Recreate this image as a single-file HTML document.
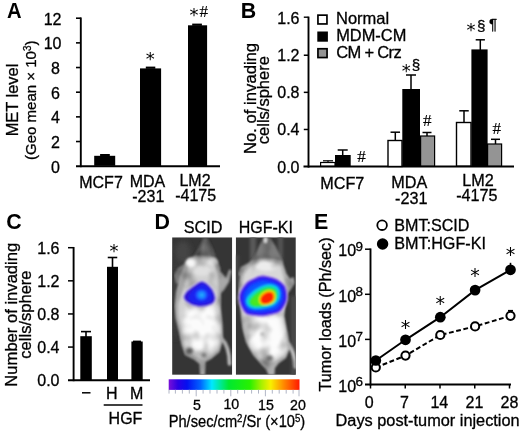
<!DOCTYPE html>
<html><head><meta charset="utf-8"><title>Figure</title>
<style>
html,body{margin:0;padding:0;background:#fff;}
svg{display:block;font-family:"Liberation Sans", Arial, Helvetica, sans-serif;fill:#000;}
#all{filter:blur(0.35px);}
text{stroke:#000;stroke-width:0.3px;}
</style></head>
<body>
<svg width="520" height="431" viewBox="0 0 520 431">
<rect x="0" y="0" width="520" height="431" fill="#fff"/>
<g id="all">
<g id="panelA">
<text x="6.9" y="18.4" font-size="21.4" text-anchor="start" font-weight="bold" style="stroke:none" textLength="14.6" lengthAdjust="spacingAndGlyphs">A</text>
<line x1="80.8" y1="17.45" x2="80.8" y2="167.2" stroke="#000" stroke-width="1.9" />
<line x1="76" y1="166.2" x2="220" y2="166.2" stroke="#000" stroke-width="2" />
<text x="59.9" y="172.5" font-size="16" text-anchor="end" font-weight="normal" >0</text>
<line x1="76" y1="141.53333333333333" x2="80.8" y2="141.53333333333333" stroke="#000" stroke-width="1.6" />
<text x="59.9" y="147.83333333333334" font-size="16" text-anchor="end" font-weight="normal" >2</text>
<line x1="76" y1="116.86666666666665" x2="80.8" y2="116.86666666666665" stroke="#000" stroke-width="1.6" />
<text x="59.9" y="123.16666666666664" font-size="16" text-anchor="end" font-weight="normal" >4</text>
<line x1="76" y1="92.19999999999999" x2="80.8" y2="92.19999999999999" stroke="#000" stroke-width="1.6" />
<text x="59.9" y="98.49999999999999" font-size="16" text-anchor="end" font-weight="normal" >6</text>
<line x1="76" y1="67.53333333333332" x2="80.8" y2="67.53333333333332" stroke="#000" stroke-width="1.6" />
<text x="59.9" y="73.83333333333331" font-size="16" text-anchor="end" font-weight="normal" >8</text>
<line x1="76" y1="42.866666666666646" x2="80.8" y2="42.866666666666646" stroke="#000" stroke-width="1.6" />
<text x="61.5" y="49.16666666666664" font-size="16" text-anchor="end" font-weight="normal" >10</text>
<line x1="76" y1="18.19999999999999" x2="80.8" y2="18.19999999999999" stroke="#000" stroke-width="1.6" />
<text x="61.5" y="24.49999999999999" font-size="16" text-anchor="end" font-weight="normal" >12</text>
<rect x="94.2" y="155.8" width="21" height="10" fill="#000"/>
<rect x="100.1" y="154" width="9.7" height="2.2" fill="#000"/>
<rect x="140" y="68.4" width="21.1" height="98" fill="#000"/>
<rect x="145.8" y="66.6" width="9.5" height="2.2" fill="#000"/>
<rect x="188" y="25.3" width="19.1" height="141" fill="#000"/>
<rect x="192.2" y="23.6" width="9.7" height="2.2" fill="#000"/>
<text x="150.2" y="65.25" font-size="18" text-anchor="middle" font-family="DejaVu Sans, sans-serif" style="stroke:none">*</text>
<text x="193.9" y="21.45" font-size="18" text-anchor="middle" font-family="DejaVu Sans, sans-serif" style="stroke:none">*</text>
<text x="199.4" y="17" font-size="17" font-family="Liberation Serif, serif" style="stroke-width:0.15px">#</text>
<text x="101" y="187.6" font-size="16" text-anchor="middle" font-weight="normal" >MCF7</text>
<text x="147.5" y="186.6" font-size="16" text-anchor="middle" font-weight="normal" >MDA</text>
<text x="148.3" y="202" font-size="16" text-anchor="middle" font-weight="normal" >-231</text>
<text x="195" y="185.6" font-size="16" text-anchor="middle" font-weight="normal" >LM2</text>
<text x="195.7" y="201.2" font-size="16" text-anchor="middle" font-weight="normal" textLength="41" lengthAdjust="spacingAndGlyphs">-4175</text>
<text transform="translate(18.2 100) rotate(-90)" font-size="16.4" text-anchor="middle" >MET level</text>
<text transform="translate(36 100.3) rotate(-90)" font-size="15.3" text-anchor="middle" textLength="119.5" lengthAdjust="spacingAndGlyphs">(Geo mean × 10<tspan font-size="10" dy="-5.5">3</tspan><tspan dy="5.5">)</tspan></text>
</g>
<g id="panelB">
<text x="240.8" y="18.4" font-size="21.4" text-anchor="start" font-weight="bold" style="stroke:none">B</text>
<line x1="308.5" y1="16.6" x2="308.5" y2="167.6" stroke="#000" stroke-width="1.9" />
<line x1="303.8" y1="17.200000000000003" x2="308.5" y2="17.200000000000003" stroke="#000" stroke-width="1.4" />
<line x1="303.5" y1="166.6" x2="514" y2="166.6" stroke="#000" stroke-width="2" />
<text x="299.5" y="172.5" font-size="16" text-anchor="end" font-weight="normal" >0.0</text>
<line x1="303.8" y1="129.475" x2="308.5" y2="129.475" stroke="#000" stroke-width="1.5" />
<text x="299.5" y="135.375" font-size="16" text-anchor="end" font-weight="normal" >0.4</text>
<line x1="303.8" y1="92.35" x2="308.5" y2="92.35" stroke="#000" stroke-width="1.5" />
<text x="299.5" y="98.25" font-size="16" text-anchor="end" font-weight="normal" >0.8</text>
<line x1="303.8" y1="55.224999999999994" x2="308.5" y2="55.224999999999994" stroke="#000" stroke-width="1.5" />
<text x="299.5" y="61.12499999999999" font-size="16" text-anchor="end" font-weight="normal" >1.2</text>
<text x="299.5" y="23.999999999999993" font-size="16" text-anchor="end" font-weight="normal" >1.6</text>
<rect x="317.95" y="15.15" width="9.0" height="8.8" fill="#fff" stroke="#000" stroke-width="1.7"/>
<rect x="317.3" y="31.5" width="10.6" height="10.2" fill="#000"/>
<rect x="317.95" y="48.75" width="9.1" height="8.8" fill="#949494" stroke="#000" stroke-width="1.7"/>
<text x="336" y="24.4" font-size="16.5" text-anchor="start" font-weight="normal" >Normal</text>
<text x="336.2" y="41.1" font-size="16.4" text-anchor="start" font-weight="normal" >MDM-CM</text>
<text x="336.2" y="58.1" font-size="16.5" text-anchor="start" font-weight="normal" textLength="65.5" lengthAdjust="spacing">CM + Crz</text>
<rect x="320.6" y="162.5" width="14.4" height="3.5" fill="#fff" stroke="#000" stroke-width="1.2"/>
<line x1="328" y1="160.8" x2="328" y2="162" stroke="#000" stroke-width="1.2" />
<line x1="323.0" y1="160.8" x2="333.0" y2="160.8" stroke="#000" stroke-width="1.2" />
<rect x="335" y="155" width="15.7" height="11" fill="#000"/>
<line x1="342.7" y1="150" x2="342.7" y2="156" stroke="#000" stroke-width="1.5" />
<line x1="337.7" y1="150" x2="347.7" y2="150" stroke="#000" stroke-width="1.5" />
<text x="357.2" y="162" font-size="17" font-family="Liberation Serif, serif" style="stroke-width:0.15px">#</text>
<rect x="388" y="140.5" width="14" height="26" fill="#fff" stroke="#000" stroke-width="1.4"/>
<line x1="395.3" y1="132.2" x2="395.3" y2="140" stroke="#000" stroke-width="1.5" />
<line x1="390.55" y1="132.2" x2="400.05" y2="132.2" stroke="#000" stroke-width="1.5" />
<rect x="402.3" y="89" width="17.7" height="78" fill="#000"/>
<line x1="411" y1="75" x2="411" y2="90" stroke="#000" stroke-width="1.5" />
<line x1="406.0" y1="75" x2="416.0" y2="75" stroke="#000" stroke-width="1.5" />
<rect x="420.6" y="136" width="14" height="30" fill="#949494" stroke="#000" stroke-width="1.2"/>
<line x1="427" y1="132.5" x2="427" y2="136" stroke="#000" stroke-width="1.5" />
<line x1="422.5" y1="132.5" x2="431.5" y2="132.5" stroke="#000" stroke-width="1.5" />
<text x="423" y="126" font-size="17" font-family="Liberation Serif, serif" style="stroke-width:0.15px">#</text>
<text x="406.3" y="76.65" font-size="18" text-anchor="middle" font-family="DejaVu Sans, sans-serif" style="stroke:none">*</text>
<text x="411.8" y="70.4" font-size="15.2" text-anchor="start" font-weight="normal" >§</text>
<rect x="456.5" y="122.5" width="14.5" height="43.5" fill="#fff" stroke="#000" stroke-width="1.4"/>
<line x1="464" y1="110.8" x2="464" y2="122" stroke="#000" stroke-width="1.5" />
<line x1="459.25" y1="110.8" x2="468.75" y2="110.8" stroke="#000" stroke-width="1.5" />
<rect x="471.4" y="49.4" width="16.2" height="117" fill="#000"/>
<line x1="480.3" y1="39.8" x2="480.3" y2="51" stroke="#000" stroke-width="1.5" />
<line x1="475.7" y1="39.8" x2="484.90000000000003" y2="39.8" stroke="#000" stroke-width="1.5" />
<rect x="487.6" y="144" width="14" height="22" fill="#949494" stroke="#000" stroke-width="1.2"/>
<line x1="495.5" y1="139.3" x2="495.5" y2="144" stroke="#000" stroke-width="1.5" />
<line x1="491.0" y1="139.3" x2="500.0" y2="139.3" stroke="#000" stroke-width="1.5" />
<text x="492.5" y="134" font-size="17" font-family="Liberation Serif, serif" style="stroke-width:0.15px">#</text>
<text x="470.9" y="35.75" font-size="18" text-anchor="middle" font-family="DejaVu Sans, sans-serif" style="stroke:none">*</text>
<text x="476.9" y="30.6" font-size="15.2" text-anchor="start" font-weight="normal" >§</text>
<text x="489" y="29.4" font-size="15" text-anchor="start" font-weight="normal" >¶</text>
<text x="342.3" y="189.2" font-size="16.2" text-anchor="middle" font-weight="normal" >MCF7</text>
<text x="409.3" y="188" font-size="16.2" text-anchor="middle" font-weight="normal" >MDA</text>
<text x="411.3" y="203.5" font-size="16.2" text-anchor="middle" font-weight="normal" >-231</text>
<text x="478" y="186.2" font-size="16.2" text-anchor="middle" font-weight="normal" >LM2</text>
<text x="476.8" y="200.6" font-size="16.2" text-anchor="middle" font-weight="normal" textLength="41.3" lengthAdjust="spacingAndGlyphs">-4175</text>
<text transform="translate(256.3 98.4) rotate(-90)" font-size="16.65" text-anchor="middle" >No. of invading</text>
<text transform="translate(268.9 100.15) rotate(-90)" font-size="16.5" text-anchor="middle" >cells/sphere</text>
</g>
<g id="panelC">
<text x="6.3" y="228.9" font-size="21.4" text-anchor="start" font-weight="bold" style="stroke:none">C</text>
<line x1="73.6" y1="246.95" x2="73.6" y2="381.2" stroke="#000" stroke-width="1.9" />
<line x1="68" y1="380.2" x2="150" y2="380.2" stroke="#000" stroke-width="2" />
<text x="59.5" y="386.0" font-size="16" text-anchor="end" font-weight="normal" >0.0</text>
<line x1="68" y1="347.075" x2="73.6" y2="347.075" stroke="#000" stroke-width="1.5" />
<text x="59.5" y="352.875" font-size="16" text-anchor="end" font-weight="normal" >0.4</text>
<line x1="68" y1="313.95" x2="73.6" y2="313.95" stroke="#000" stroke-width="1.5" />
<text x="59.5" y="319.75" font-size="16" text-anchor="end" font-weight="normal" >0.8</text>
<line x1="68" y1="280.825" x2="73.6" y2="280.825" stroke="#000" stroke-width="1.5" />
<text x="59.5" y="286.625" font-size="16" text-anchor="end" font-weight="normal" >1.2</text>
<line x1="68" y1="247.7" x2="73.6" y2="247.7" stroke="#000" stroke-width="1.5" />
<text x="59.5" y="253.5" font-size="16" text-anchor="end" font-weight="normal" >1.6</text>
<rect x="80.3" y="336.2" width="11.5" height="44" fill="#000"/>
<line x1="86" y1="331.6" x2="86" y2="337" stroke="#000" stroke-width="1.6" />
<line x1="81.0" y1="331.6" x2="91.0" y2="331.6" stroke="#000" stroke-width="1.6" />
<rect x="107" y="266.8" width="11" height="113.5" fill="#000"/>
<line x1="112.5" y1="257.5" x2="112.5" y2="268" stroke="#000" stroke-width="1.6" />
<line x1="107.75" y1="257.5" x2="117.25" y2="257.5" stroke="#000" stroke-width="1.6" />
<rect x="131.4" y="341.5" width="11.3" height="39" fill="#000"/>
<rect x="133" y="340.6" width="8" height="1.5" fill="#000"/>
<text x="114.1" y="256.65" font-size="18" text-anchor="middle" font-family="DejaVu Sans, sans-serif" style="stroke:none">*</text>
<line x1="82" y1="392.8" x2="90.5" y2="392.8" stroke="#000" stroke-width="1.5" />
<text x="111.8" y="398.5" font-size="16" text-anchor="middle" font-weight="normal" >H</text>
<text x="136.6" y="398.5" font-size="16" text-anchor="middle" font-weight="normal" >M</text>
<line x1="103.7" y1="405" x2="142.5" y2="405" stroke="#000" stroke-width="1.6" />
<text x="125.5" y="423.9" font-size="16" text-anchor="middle" font-weight="normal" >HGF</text>
<text transform="translate(16.8 314.7) rotate(-90)" font-size="16.6" text-anchor="middle" >Number of invading</text>
<text transform="translate(30.8 314.55) rotate(-90)" font-size="16.55" text-anchor="middle" >cells/sphere</text>
</g>
<g id="panelD">
<text x="154.5" y="228.9" font-size="21.4" text-anchor="start" font-weight="bold" style="stroke:none">D</text>
<text x="203" y="233.4" font-size="16.2" text-anchor="middle" font-weight="normal" >SCID</text>
<text x="265.8" y="233.4" font-size="16" text-anchor="middle" font-weight="normal" >HGF-KI</text>
<defs>
<filter id="bl3" x="-30%" y="-30%" width="160%" height="160%"><feGaussianBlur stdDeviation="2.5"/></filter>
<filter id="bl2" x="-30%" y="-30%" width="160%" height="160%"><feGaussianBlur stdDeviation="1.8"/></filter>
<filter id="mott" x="0" y="0" width="100%" height="100%">
<feTurbulence type="fractalNoise" baseFrequency="0.07 0.06" numOctaves="2" seed="11" result="n"/>
<feColorMatrix in="n" type="matrix" values="0 0 0 0 0  0 0 0 0 0  0 0 0 0 0  1.5 0 0 0 -0.66" result="al"/>
<feComposite in="al" in2="SourceGraphic" operator="in" result="m"/>
<feGaussianBlur in="m" stdDeviation="1.2" result="mb"/>
<feMerge><feMergeNode in="SourceGraphic"/><feMergeNode in="mb"/></feMerge>
</filter>
<filter id="bl1" x="-30%" y="-30%" width="160%" height="160%"><feGaussianBlur stdDeviation="0.9"/></filter>
<clipPath id="cl1"><rect x="172.2" y="237.3" width="60" height="137.5"/></clipPath>
<clipPath id="cl2"><rect x="235.8" y="237.3" width="60" height="137.5"/></clipPath>
<linearGradient id="cbar" x1="0" x2="1" y1="0" y2="0">
<stop offset="0" stop-color="#7a10d8"/>
<stop offset="0.07" stop-color="#2c00e4"/>
<stop offset="0.14" stop-color="#0410f0"/>
<stop offset="0.24" stop-color="#0060ff"/>
<stop offset="0.33" stop-color="#00e8ff"/>
<stop offset="0.46" stop-color="#00e830"/>
<stop offset="0.62" stop-color="#28f000"/>
<stop offset="0.71" stop-color="#a8f000"/>
<stop offset="0.78" stop-color="#f8f000"/>
<stop offset="0.88" stop-color="#ff8800"/>
<stop offset="1" stop-color="#ff1800"/>
</linearGradient>
</defs>
<g clip-path="url(#cl1)">
<rect x="172" y="237.3" width="60.3" height="137.6" fill="#353535"/>
<g filter="url(#bl3)"><ellipse cx="183" cy="252" rx="8" ry="11" fill="#444"/><ellipse cx="176" cy="300" rx="4" ry="40" fill="#3e3e3e"/></g>
<g filter="url(#mott)">
<g filter="url(#bl1)">
<path d="M203 238 L199.500 246 L196 252 L193 257.500 L216 257.500 L213.500 250 L210 243 L207.500 238 Z" fill="#5c5c5c"/>
<path d="M204 239 L202 247 L200 257 L211 257 L209 247 L206.500 239 Z" fill="#7c7c7c"/>
<path d="M188 261 L178 268 L174 275 L176 284 L184 280 Z" fill="#7a7a7a"/>
<path d="M219 270 L226 278 L229.500 269 L231.500 271 L229 282 L224 290 L220 294 Z" fill="#a8a8a8"/>
<path d="M188 258 Q200 253.500 216 258 L220 268 L221 290 L220.500 306 L222.500 325 L223 340 L219.500 352 L211 359 L205.500 362 L205 375 L200 375 L199.500 364 L194 359.500 L185 355 L181.500 345 L179 332 L175.500 318 L174.500 306 L176 292 L180 276 Z" fill="#a4a4a4"/>
<path d="M221 338 Q229.500 346 229.500 364" fill="none" stroke="#bdbdbd" stroke-width="3.600" stroke-linecap="round"/>
</g>
<g filter="url(#bl2)">
<path d="M190 260 Q200 256 214 259 L218 275 L219 300 L220 320 L221 338 L218 350 L210 357 L203 359 L195 357 L187 352 L183 341 L180.500 328 L178 315 L178 304 L183 290 L187 275 Z" fill="#d2d2d2"/>
<ellipse cx="191" cy="262.800" rx="5.500" ry="4" fill="#f8f8f8"/>
<ellipse cx="212.500" cy="262" rx="5" ry="3.200" fill="#e4e4e4"/>
<ellipse cx="202" cy="271" rx="9" ry="5" fill="#e0e0e0"/>
</g>
<g filter="url(#bl3)">
<path d="M188 306 L214 306 L218 322 L219 340 L211 352 L197 352 L187 344 L182 325 Z" fill="#fbfbfb"/>
</g>
<g filter="url(#bl2)">
<ellipse cx="189.500" cy="351" rx="3.500" ry="3" fill="#6c6c6c"/>
<ellipse cx="204" cy="355.500" rx="2.500" ry="2.500" fill="#858585"/>
</g>
</g>
<g filter="url(#bl1)">
<path d="M202.600 281.200 Q206.500 282.500 209.700 286 Q214.500 291 215.500 297.500 Q215.500 302 211.800 304.200 Q206 306.800 199.500 306.700 Q192.500 306.200 188.300 303 Q184 300.500 183.500 297 Q184.500 292.500 189.300 289 Q193 286 197.500 283 Q200 281 202.600 281.200 Z" fill="#eadcf6" stroke="#eadcf6" stroke-width="1.6"/>
<path d="M202.600 281.200 Q206.500 282.500 209.700 286 Q214.500 291 215.500 297.500 Q215.500 302 211.800 304.200 Q206 306.800 199.500 306.700 Q192.500 306.200 188.300 303 Q184 300.500 183.500 297 Q184.500 292.500 189.300 289 Q193 286 197.500 283 Q200 281 202.600 281.200 Z" fill="#3016d6"/>
<path d="M202.500 284 Q208 286 211 291 Q213.500 297 211 301.500 Q206 304 199.500 304 Q192 303.500 188.500 299.500 Q188 295 192 291 Q197 286 202.500 284 Z" fill="#1c22f0"/>
<ellipse cx="201.500" cy="295" rx="6.200" ry="5.800" fill="#1c50ff"/>
<ellipse cx="201.500" cy="295" rx="4" ry="3.800" fill="#1c88ff"/>
<ellipse cx="201.700" cy="295" rx="2" ry="2" fill="#22a4ff"/>
</g></g>
<g clip-path="url(#cl2)">
<rect x="235.7" y="237.3" width="60.2" height="137.6" fill="#353535"/>
<g filter="url(#bl2)">
<rect x="250" y="236" width="6" height="34" fill="#5a5a5a"/>
<rect x="278" y="236" width="5" height="34" fill="#525252"/>
<rect x="291" y="296" width="6" height="80" fill="#484848"/>
<rect x="234" y="255" width="5" height="50" fill="#454545"/>
</g>
<g filter="url(#mott)">
<g filter="url(#bl1)">
<path d="M263.500 238 L259 246 L255 256 L251 262 L283 262 L279.500 254 L275.500 246 L270 238 Z" fill="#7c7c7c"/>
<ellipse cx="265.500" cy="240" rx="1.800" ry="3" fill="#f4f4f4"/>
<path d="M250 262 L241 267 L238 275 L246 277 Z" fill="#9a9a9a"/>
<path d="M284 270 L290 279 L293.500 277 L294.500 283 L289.500 291 L284 295 Z" fill="#b4b4b4"/>
<path d="M251 261 Q266 255.500 282 261 L286 272 L287.500 290 L284 316 L287.500 333 L290 348 L286 358 L279 363 L275 368 L274.500 375 L268.500 375 L266 369 L261.500 364.500 L253 355 L246 342 L242.500 328 L241 316 L238.500 290 L240 275 Z" fill="#aeaeae"/>
<path d="M288.500 344 Q294.500 352 295.500 367" fill="none" stroke="#c4c4c4" stroke-width="3.600" stroke-linecap="round"/>
</g>
<g filter="url(#bl2)">
<path d="M253 263 Q266 258.500 280 263 L284.500 280 L283 316 L285.500 333 L288 347 L284 356 L275 362 L267 363 L259 358 L250 347 L245 331 L243 316 L241 290 L244 274 Z" fill="#d8d8d8"/>
<ellipse cx="266" cy="266" rx="11" ry="5" fill="#ececec"/>
</g>
<g filter="url(#bl3)">
<path d="M247 316 L280 316 L284 335 L286 348 L275 358 L263 356 L252 345 L247 331 Z" fill="#fcfcfc"/>
</g>
<g filter="url(#bl2)">
<ellipse cx="270" cy="358" rx="3" ry="2.500" fill="#8a8a8a"/>
<ellipse cx="262" cy="334" rx="2" ry="2" fill="#b8b8b8"/>
</g>
</g>
<g filter="url(#bl1)">
<path d="M262.7 275.6 C266.1 275.7 271.6 277.0 275.0 278.3 C278.4 279.6 281.1 281.7 283.0 283.5 C284.9 285.3 285.6 286.2 286.3 289.0 C287.0 291.8 288.0 296.8 287.0 300.5 C286.0 304.2 283.3 309.1 280.5 311.5 C277.7 313.9 273.2 314.2 270.0 315.0 C266.8 315.8 264.5 316.2 261.5 316.3 C258.5 316.4 254.8 316.1 252.0 315.5 C249.2 314.9 247.0 315.1 245.0 313.0 C243.0 310.9 240.7 306.3 239.8 303.0 C238.9 299.7 238.6 296.3 239.6 293.0 C240.6 289.7 243.5 285.5 246.0 283.0 C248.5 280.5 251.7 279.2 254.5 278.0 C257.3 276.8 259.3 275.6 262.7 275.6 Z" fill="#ecd8f8" stroke="#ecd8f8" stroke-width="1.4"/>
<path d="M262.7 275.6 C266.1 275.7 271.6 277.0 275.0 278.3 C278.4 279.6 281.1 281.7 283.0 283.5 C284.9 285.3 285.6 286.2 286.3 289.0 C287.0 291.8 288.0 296.8 287.0 300.5 C286.0 304.2 283.3 309.1 280.5 311.5 C277.7 313.9 273.2 314.2 270.0 315.0 C266.8 315.8 264.5 316.2 261.5 316.3 C258.5 316.4 254.8 316.1 252.0 315.5 C249.2 314.9 247.0 315.1 245.0 313.0 C243.0 310.9 240.7 306.3 239.8 303.0 C238.9 299.7 238.6 296.3 239.6 293.0 C240.6 289.7 243.5 285.5 246.0 283.0 C248.5 280.5 251.7 279.2 254.5 278.0 C257.3 276.8 259.3 275.6 262.7 275.6 Z" fill="#5a28dc"/>
<path d="M262.7 277.2 C265.9 277.2 270.9 278.4 274.1 279.6 C277.3 280.8 279.9 282.7 281.6 284.3 C283.4 286.0 284.1 286.8 284.8 289.5 C285.4 292.1 286.3 296.7 285.4 300.2 C284.5 303.7 282.0 308.2 279.3 310.4 C276.6 312.7 272.4 312.8 269.4 313.5 C266.5 314.2 264.4 314.6 261.6 314.7 C258.8 314.8 255.4 314.6 252.8 314.1 C250.2 313.6 248.1 313.8 246.2 311.9 C244.3 310.0 242.2 305.7 241.3 302.5 C240.5 299.4 240.2 296.3 241.2 293.2 C242.2 290.1 244.9 286.3 247.3 284.0 C249.6 281.7 252.6 280.6 255.2 279.4 C257.8 278.3 259.6 277.2 262.7 277.2 Z" fill="#2a20f4"/>
<path d="M262.8 279.4 C265.5 279.4 270.0 280.4 272.9 281.4 C275.7 282.5 278.1 284.1 279.8 285.5 C281.4 287.0 282.1 287.7 282.7 290.1 C283.2 292.5 284.1 296.7 283.3 299.8 C282.4 302.9 280.1 307.0 277.7 309.0 C275.2 310.9 271.3 310.8 268.7 311.4 C266.0 312.0 264.2 312.4 261.8 312.5 C259.3 312.6 256.2 312.5 253.9 312.2 C251.5 311.8 249.5 312.1 247.8 310.4 C246.0 308.7 244.2 304.7 243.4 301.9 C242.7 299.1 242.4 296.2 243.4 293.5 C244.3 290.7 246.9 287.3 249.0 285.3 C251.1 283.3 253.8 282.4 256.1 281.4 C258.4 280.5 260.0 279.4 262.8 279.4 Z" fill="#1834ff"/>
<path d="M262.8 281.4 C265.3 281.4 269.2 282.3 271.8 283.1 C274.4 284.0 276.6 285.4 278.1 286.7 C279.6 287.9 280.3 288.6 280.8 290.8 C281.3 292.9 282.1 296.7 281.3 299.5 C280.5 302.4 278.3 306.1 276.1 307.7 C273.9 309.4 270.3 309.1 267.9 309.6 C265.6 310.0 264.1 310.4 261.9 310.5 C259.8 310.7 257.0 310.7 254.9 310.5 C252.8 310.2 250.9 310.6 249.3 309.1 C247.7 307.6 246.0 304.0 245.4 301.4 C244.7 298.9 244.5 296.3 245.3 293.9 C246.2 291.4 248.6 288.4 250.5 286.6 C252.5 284.8 254.9 284.1 256.9 283.3 C259.0 282.4 260.3 281.4 262.8 281.4 Z" fill="#0c54ff"/>
<path d="M268.0 284.0 C271.0 283.7 274.0 284.3 276.0 285.5 C278.0 286.7 279.4 288.8 280.0 291.0 C280.6 293.2 280.5 296.6 279.5 299.0 C278.5 301.4 276.6 303.9 274.0 305.5 C271.4 307.1 267.3 307.9 264.0 308.5 C260.7 309.1 256.8 309.4 254.0 309.0 C251.2 308.6 248.9 307.5 247.5 306.0 C246.1 304.5 245.4 302.1 245.8 300.0 C246.2 297.9 248.0 295.6 250.0 293.5 C252.0 291.4 255.0 289.1 258.0 287.5 C261.0 285.9 265.0 284.3 268.0 284.0 Z" fill="#0890ff"/>
<path d="M267.8 284.8 C270.6 284.4 273.5 285.0 275.4 286.1 C277.3 287.2 278.7 289.2 279.3 291.3 C279.8 293.4 279.7 296.6 278.7 298.9 C277.7 301.2 275.8 303.5 273.4 305.0 C270.9 306.5 267.1 307.1 264.0 307.7 C260.9 308.3 257.2 308.7 254.5 308.4 C251.9 308.1 249.5 307.1 248.2 305.6 C246.9 304.2 246.2 301.9 246.6 299.9 C247.0 297.9 248.8 295.7 250.8 293.7 C252.7 291.8 255.6 289.7 258.4 288.2 C261.2 286.7 264.9 285.1 267.8 284.8 Z" fill="#08c0f4"/>
<path d="M267.5 285.6 C270.2 285.3 273.0 285.7 274.8 286.7 C276.6 287.7 277.9 289.6 278.4 291.6 C278.9 293.7 278.8 296.7 277.8 298.8 C276.8 301.0 275.0 303.1 272.7 304.4 C270.4 305.8 266.9 306.3 264.0 306.8 C261.1 307.3 257.6 308.0 255.1 307.7 C252.6 307.5 250.3 306.5 249.0 305.2 C247.7 303.9 247.0 301.6 247.5 299.8 C247.9 297.9 249.7 295.8 251.6 294.0 C253.5 292.2 256.2 290.3 258.9 289.0 C261.5 287.6 264.9 286.0 267.5 285.6 Z" fill="#08dcc8"/>
<path d="M268.0 287.3 C270.1 287.2 273.0 287.6 274.5 288.5 C276.0 289.4 276.9 291.2 277.2 293.0 C277.5 294.8 277.4 297.6 276.5 299.5 C275.6 301.4 273.8 303.3 271.5 304.5 C269.2 305.7 265.9 306.1 263.0 306.5 C260.1 306.9 256.2 307.3 254.0 306.8 C251.8 306.3 250.1 304.9 249.5 303.5 C248.9 302.1 249.4 300.2 250.5 298.5 C251.6 296.8 254.1 294.6 256.0 293.0 C257.9 291.4 260.0 289.9 262.0 289.0 C264.0 288.1 265.9 287.4 268.0 287.3 Z" fill="#18e048"/>
<path d="M267.5 288.8 C269.3 288.7 272.0 288.8 273.3 289.6 C274.7 290.4 275.4 291.9 275.7 293.6 C276.0 295.2 275.8 297.6 274.9 299.2 C274.0 300.9 272.3 302.4 270.4 303.3 C268.5 304.3 265.9 304.5 263.3 304.9 C260.8 305.3 257.3 306.1 255.2 305.8 C253.2 305.4 251.5 304.2 251.0 302.9 C250.5 301.7 251.0 299.9 252.1 298.4 C253.2 296.9 255.7 295.0 257.4 293.7 C259.2 292.4 260.8 291.3 262.5 290.5 C264.2 289.7 265.7 289.0 267.5 288.8 Z" fill="#48e820"/>
<path d="M268.5 290.3 C270.2 290.2 272.4 290.6 273.5 291.5 C274.6 292.4 275.3 294.3 275.4 296.0 C275.5 297.7 275.1 300.1 274.0 301.5 C272.9 302.9 270.5 304.1 268.5 304.6 C266.5 305.2 263.6 305.3 262.0 304.8 C260.4 304.3 259.4 302.9 259.0 301.5 C258.6 300.1 258.9 298.0 259.6 296.5 C260.4 295.0 262.0 293.3 263.5 292.3 C265.0 291.3 266.8 290.4 268.5 290.3 Z" fill="#f0ec00"/>
<path d="M268.3 291.2 C269.8 291.0 271.8 291.3 272.9 292.1 C273.9 293.0 274.5 294.7 274.5 296.2 C274.6 297.7 274.2 299.8 273.2 301.1 C272.2 302.3 270.1 303.2 268.3 303.7 C266.5 304.2 263.9 304.5 262.5 304.1 C261.1 303.6 260.2 302.4 259.8 301.1 C259.5 299.9 259.8 298.0 260.5 296.7 C261.2 295.3 262.7 294.0 264.0 293.1 C265.3 292.2 266.8 291.3 268.3 291.2 Z" fill="#ff9800"/>
<path d="M268.8 292.3 C270.1 292.2 271.5 292.5 272.3 293.3 C273.1 294.1 273.6 295.7 273.5 297.0 C273.4 298.3 273.0 299.9 272.0 301.0 C271.0 302.1 269.0 303.0 267.5 303.4 C266.0 303.8 264.1 303.9 263.0 303.4 C261.9 302.9 261.1 301.6 260.9 300.5 C260.6 299.4 260.9 298.1 261.5 297.0 C262.1 295.9 263.3 294.8 264.5 294.0 C265.7 293.2 267.5 292.4 268.8 292.3 Z" fill="#ff2200"/>
</g></g>
<rect x="168.7" y="379.3" width="130.8" height="10.6" fill="url(#cbar)"/>
<line x1="169.0" y1="389.8" x2="169.0" y2="393.6" stroke="#a8aec0" stroke-width="0.9"/>
<line x1="175.4" y1="389.8" x2="175.4" y2="393.6" stroke="#a8aec0" stroke-width="0.9"/>
<line x1="182.4" y1="389.8" x2="182.4" y2="393.6" stroke="#a8aec0" stroke-width="0.9"/>
<line x1="189.3" y1="389.8" x2="189.3" y2="393.6" stroke="#a8aec0" stroke-width="0.9"/>
<line x1="196.2" y1="389.8" x2="196.2" y2="396.3" stroke="#a8aec0" stroke-width="0.9"/>
<line x1="203.1" y1="389.8" x2="203.1" y2="393.6" stroke="#a8aec0" stroke-width="0.9"/>
<line x1="210.0" y1="389.8" x2="210.0" y2="393.6" stroke="#a8aec0" stroke-width="0.9"/>
<line x1="217.0" y1="389.8" x2="217.0" y2="393.6" stroke="#a8aec0" stroke-width="0.9"/>
<line x1="223.9" y1="389.8" x2="223.9" y2="393.6" stroke="#a8aec0" stroke-width="0.9"/>
<line x1="230.8" y1="389.8" x2="230.8" y2="396.3" stroke="#a8aec0" stroke-width="0.9"/>
<line x1="237.7" y1="389.8" x2="237.7" y2="393.6" stroke="#a8aec0" stroke-width="0.9"/>
<line x1="244.6" y1="389.8" x2="244.6" y2="393.6" stroke="#a8aec0" stroke-width="0.9"/>
<line x1="251.6" y1="389.8" x2="251.6" y2="393.6" stroke="#a8aec0" stroke-width="0.9"/>
<line x1="258.5" y1="389.8" x2="258.5" y2="393.6" stroke="#a8aec0" stroke-width="0.9"/>
<line x1="265.4" y1="389.8" x2="265.4" y2="396.3" stroke="#a8aec0" stroke-width="0.9"/>
<line x1="272.3" y1="389.8" x2="272.3" y2="393.6" stroke="#a8aec0" stroke-width="0.9"/>
<line x1="279.2" y1="389.8" x2="279.2" y2="393.6" stroke="#a8aec0" stroke-width="0.9"/>
<line x1="286.2" y1="389.8" x2="286.2" y2="393.6" stroke="#a8aec0" stroke-width="0.9"/>
<line x1="293.1" y1="389.8" x2="293.1" y2="393.6" stroke="#a8aec0" stroke-width="0.9"/>
<line x1="299.0" y1="389.8" x2="299.0" y2="396.3" stroke="#a8aec0" stroke-width="0.9"/>
<text x="197" y="410.40000000000003" font-size="14.2" text-anchor="middle" font-weight="normal" >5</text>
<text x="231.3" y="409.40000000000003" font-size="14.2" text-anchor="middle" font-weight="normal" >10</text>
<text x="266" y="410.40000000000003" font-size="14.2" text-anchor="middle" font-weight="normal" >15</text>
<text x="298" y="410.40000000000003" font-size="14.2" text-anchor="middle" font-weight="normal" >20</text>
<text x="168.7" y="427.2" font-size="16" text-anchor="start" font-weight="normal" textLength="136.5" lengthAdjust="spacingAndGlyphs">Ph/sec/cm<tspan font-size="10.5" dy="-5.5">2</tspan><tspan dy="5.5">/Sr (×10</tspan><tspan font-size="10.5" dy="-5.5">5</tspan><tspan dy="5.5">)</tspan></text>
</g>
<g id="panelE">
<text x="314.1" y="228.9" font-size="21.4" text-anchor="start" font-weight="bold" style="stroke:none">E</text>
<line x1="370.5" y1="248.45" x2="370.5" y2="385.5" stroke="#000" stroke-width="1.9" />
<line x1="365" y1="384.5" x2="511" y2="384.5" stroke="#000" stroke-width="2" />
<text x="356.1" y="391.7" font-size="16" text-anchor="end">10</text>
<text x="355.5" y="386.4" font-size="13.5" text-anchor="start">6</text>
<line x1="365" y1="339.4" x2="370.5" y2="339.4" stroke="#000" stroke-width="1.5" />
<text x="356.1" y="346.6" font-size="16" text-anchor="end">10</text>
<text x="355.5" y="341.3" font-size="13.5" text-anchor="start">7</text>
<line x1="365" y1="294.3" x2="370.5" y2="294.3" stroke="#000" stroke-width="1.5" />
<text x="356.1" y="301.5" font-size="16" text-anchor="end">10</text>
<text x="355.5" y="296.2" font-size="13.5" text-anchor="start">8</text>
<line x1="365" y1="249.2" x2="370.5" y2="249.2" stroke="#000" stroke-width="1.5" />
<text x="356.1" y="256.4" font-size="16" text-anchor="end">10</text>
<text x="355.5" y="251.1" font-size="13.5" text-anchor="start">9</text>
<line x1="370.5" y1="384.5" x2="370.5" y2="388.5" stroke="#000" stroke-width="1.5" />
<text x="369.2" y="408.2" font-size="16" text-anchor="middle" font-weight="normal" >0</text>
<line x1="405.25" y1="384.5" x2="405.25" y2="388.5" stroke="#000" stroke-width="1.5" />
<text x="404.4" y="408.2" font-size="16" text-anchor="middle" font-weight="normal" >7</text>
<line x1="440.0" y1="384.5" x2="440.0" y2="388.5" stroke="#000" stroke-width="1.5" />
<text x="439.3" y="408.2" font-size="16" text-anchor="middle" font-weight="normal" >14</text>
<line x1="474.75" y1="384.5" x2="474.75" y2="388.5" stroke="#000" stroke-width="1.5" />
<text x="474.4" y="408.2" font-size="16" text-anchor="middle" font-weight="normal" >21</text>
<line x1="509.5" y1="384.5" x2="509.5" y2="388.5" stroke="#000" stroke-width="1.5" />
<text x="509.5" y="408.2" font-size="16" text-anchor="middle" font-weight="normal" >28</text>
<text x="335.6" y="425.6" font-size="16" text-anchor="start" font-weight="normal" textLength="184" lengthAdjust="spacingAndGlyphs">Days post-tumor injection</text>
<text transform="translate(331.2 314.5) rotate(-90)" font-size="16.2" text-anchor="middle" >Tumor loads (Ph/sec)</text>
<circle cx="382.1" cy="225.2" r="4.8" fill="#fff" stroke="#000" stroke-width="1.8"/>
<circle cx="382.6" cy="244" r="5.7" fill="#000"/>
<text x="394.3" y="230.5" font-size="16.1" text-anchor="start" font-weight="normal" >BMT:SCID</text>
<text x="394.3" y="248.9" font-size="16.2" text-anchor="start" font-weight="normal" >BMT:HGF-KI</text>
<polyline points="375.8,360.5 405.5,339.8 440.3,317.2 475.1,290.1 510.5,269.8" fill="none" stroke="#000" stroke-width="2"/>
<polyline points="375.8,367.5 405.5,355.6 440.3,335 475.1,326.4 510.5,315.8" fill="none" stroke="#000" stroke-width="2" stroke-dasharray="4.8 2.6"/>
<line x1="510.5" y1="310.5" x2="510.5" y2="316" stroke="#000" stroke-width="1.2" />
<line x1="508" y1="310.5" x2="513" y2="310.5" stroke="#000" stroke-width="1.2" />
<line x1="510.5" y1="262.8" x2="510.5" y2="268" stroke="#000" stroke-width="1.6" />
<circle cx="375.8" cy="367.5" r="4.1" fill="#fff" stroke="#000" stroke-width="2"/>
<circle cx="405.5" cy="355.6" r="4.1" fill="#fff" stroke="#000" stroke-width="2"/>
<circle cx="440.3" cy="335" r="4.1" fill="#fff" stroke="#000" stroke-width="2"/>
<circle cx="475.1" cy="326.4" r="4.1" fill="#fff" stroke="#000" stroke-width="2"/>
<circle cx="510.5" cy="315.8" r="4.1" fill="#fff" stroke="#000" stroke-width="2"/>
<circle cx="375.8" cy="360.5" r="5.35" fill="#000"/>
<circle cx="405.5" cy="339.8" r="5.35" fill="#000"/>
<circle cx="440.3" cy="317.2" r="5.35" fill="#000"/>
<circle cx="475.1" cy="290.1" r="5.35" fill="#000"/>
<circle cx="510.5" cy="269.8" r="5.35" fill="#000"/>
<text x="405.5" y="333.57" font-size="19" text-anchor="middle" font-family="DejaVu Sans, sans-serif" style="stroke:none">*</text>
<text x="440.3" y="310.17" font-size="19" text-anchor="middle" font-family="DejaVu Sans, sans-serif" style="stroke:none">*</text>
<text x="475.1" y="282.07" font-size="19" text-anchor="middle" font-family="DejaVu Sans, sans-serif" style="stroke:none">*</text>
<text x="510.5" y="260.87" font-size="19" text-anchor="middle" font-family="DejaVu Sans, sans-serif" style="stroke:none">*</text>
</g>
</g>
</svg>
</body></html>
